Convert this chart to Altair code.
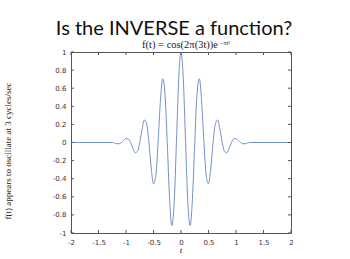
import altair as alt
import pandas as pd

T = [-2.0, -1.25, -1.2083, -1.1667, -1.125, -1.0833, -1.0417, -1.0, -0.9583, -0.9167,
     -0.875, -0.8333, -0.7917, -0.75, -0.7083, -0.6667, -0.625, -0.5833, -0.5417, -0.5,
     -0.4583, -0.4167, -0.375, -0.3333, -0.2917, -0.25, -0.2083, -0.1667, -0.125, -0.0833,
     -0.0417, 0.0, 0.0417, 0.0833, 0.125, 0.1667, 0.2083, 0.25, 0.2917, 0.3333,
     0.375, 0.4167, 0.4583, 0.5, 0.5417, 0.5833, 0.625, 0.6667, 0.7083, 0.75,
     0.7917, 0.8333, 0.875, 0.9167, 0.9583, 1.0, 1.0417, 1.0833, 1.125, 1.1667,
     1.2083, 1.25, 2.0]
F = [0.0, 0.0, -0.007, -0.014, -0.013, 0.0, 0.023, 0.043, 0.039, 0.0,
     -0.064, -0.113, -0.099, 0.0, 0.146, 0.248, 0.207, 0.0, -0.281, -0.456,
     -0.366, 0.0, 0.455, 0.705, 0.541, 0.0, -0.617, -0.916, -0.673, 0.0,
     0.703, 1.0, 0.703, 0.0, -0.673, -0.916, -0.617, 0.0, 0.541, 0.705,
     0.455, 0.0, -0.366, -0.456, -0.281, 0.0, 0.207, 0.248, 0.146, 0.0,
     -0.099, -0.113, -0.064, 0.0, 0.039, 0.043, 0.023, 0.0, -0.013, -0.014,
     -0.007, 0.0, 0.0]
XTICKS = [-2, -1.5, -1, -0.5, 0, 0.5, 1, 1.5, 2]
YTICKS = [-1, -0.8, -0.6, -0.4, -0.2, 0, 0.2, 0.4, 0.6, 0.8, 1]

W, H = 220, 181
curve = pd.DataFrame({"t": T, "f": F})
xt = pd.DataFrame({"x": XTICKS})
yt = pd.DataFrame({"y": YTICKS})

xscale = alt.Scale(domain=[-2, 2], nice=False, zero=False)
yscale = alt.Scale(domain=[-1, 1], nice=False, zero=False)

label_expr = "replace(format(datum.value, '~g'), '−', '-')"
xaxis = alt.Axis(values=XTICKS, labelExpr=label_expr, ticks=False, domain=False, grid=False,
                 labelFontSize=7, labelColor="#333", labelPadding=5, title=None,
                 labelFont="DejaVu Sans", labelOverlap=False, labelFlush=False)
yaxis = alt.Axis(values=YTICKS, labelExpr=label_expr, ticks=False, domain=False, grid=False,
                 labelFontSize=7, labelColor="#333", labelPadding=5, title=None,
                 labelFont="DejaVu Sans", labelOverlap=False, labelFlush=False)

line = alt.Chart(curve).mark_line(color="#7391c9", strokeWidth=1, interpolate="monotone").encode(
    x=alt.X("t:Q", scale=xscale, axis=xaxis),
    y=alt.Y("f:Q", scale=yscale, axis=yaxis),
)

tick_color = "#555"
top_ticks = alt.Chart(xt).mark_rule(color=tick_color, strokeWidth=1).encode(
    x=alt.X("x:Q", scale=xscale, axis=xaxis), y=alt.value(0), y2=alt.value(3))
bot_ticks = alt.Chart(xt).mark_rule(color=tick_color, strokeWidth=1).encode(
    x=alt.X("x:Q", scale=xscale, axis=xaxis), y=alt.value(H), y2=alt.value(H - 3))
left_ticks = alt.Chart(yt).mark_rule(color=tick_color, strokeWidth=1).encode(
    y=alt.Y("y:Q", scale=yscale, axis=yaxis), x=alt.value(0), x2=alt.value(3))
right_ticks = alt.Chart(yt).mark_rule(color=tick_color, strokeWidth=1).encode(
    y=alt.Y("y:Q", scale=yscale, axis=yaxis), x=alt.value(W), x2=alt.value(W - 3))

one = pd.DataFrame({"a": [0]})
title = alt.Chart(one).mark_text(
    text="Is the INVERSE a function?", font="Lato", fontSize=20, color="#111",
    align="center", baseline="alphabetic").encode(x=alt.value(103), y=alt.value(-17))
formula = alt.Chart(one).mark_text(
    text="f(t) = cos(2π(3t))e", font="Liberation Serif", fontSize=10.5,
    color="#222", align="right", baseline="alphabetic").encode(x=alt.value(147), y=alt.value(-4))
expo = alt.Chart(one).mark_text(
    text="−πt²", font="Liberation Serif", fontSize=6,
    color="#222", align="left", baseline="alphabetic").encode(x=alt.value(149), y=alt.value(-7.5))
ytitle = alt.Chart(one).mark_text(
    text="f(t) appears to oscillate at 3 cycles/sec", font="Liberation Serif", fontSize=9,
    color="#222", angle=270, align="center", baseline="middle").encode(
    x=alt.value(-63), y=alt.value(99))
xtitle = alt.Chart(one).mark_text(
    text="t", font="Liberation Serif", fontStyle="italic", fontSize=9,
    color="#222", align="center", baseline="alphabetic").encode(x=alt.value(110), y=alt.value(201))

chart = alt.layer(line, top_ticks, bot_ticks, left_ticks, right_ticks,
                  title, formula, expo, ytitle, xtitle).properties(
    width=W, height=H,
    padding={"left": 71, "top": 52, "right": 59, "bottom": 26},
    autosize=alt.AutoSizeParams(type="none"),
    background="white",
).configure_view(stroke="#555", strokeWidth=1)

chart.save("out.html", embed_options={"renderer": "svg", "actions": False})
